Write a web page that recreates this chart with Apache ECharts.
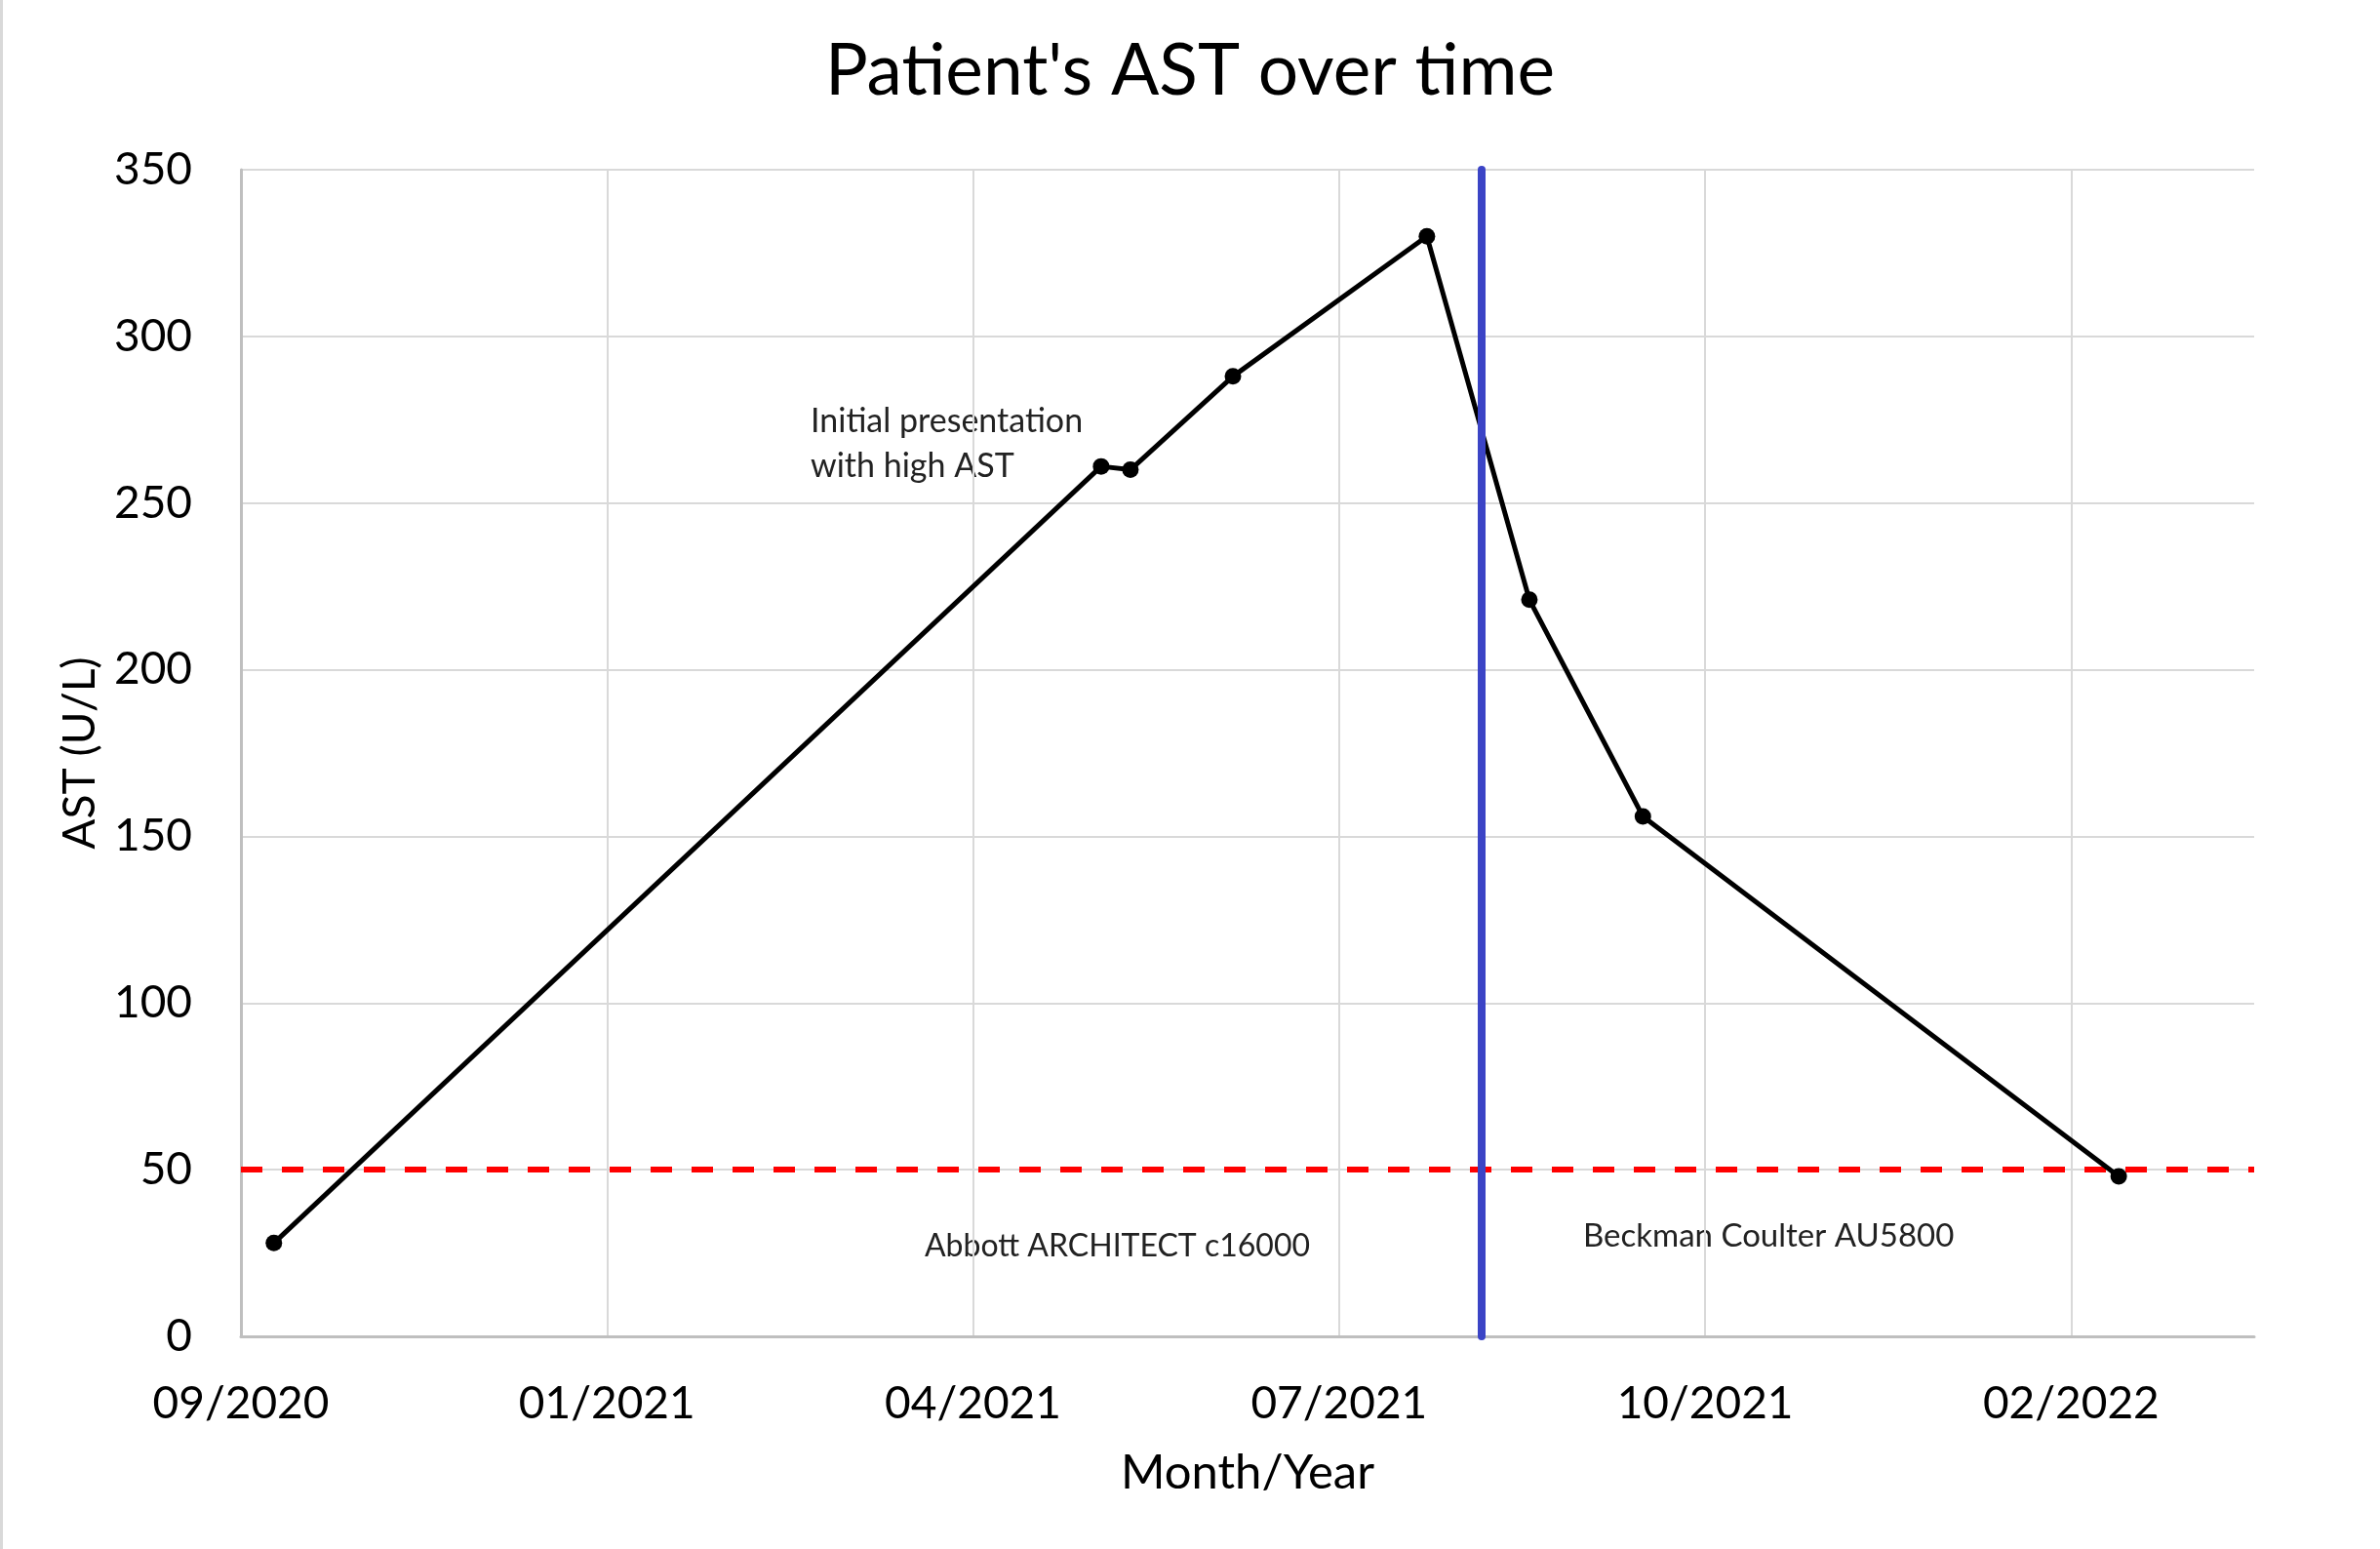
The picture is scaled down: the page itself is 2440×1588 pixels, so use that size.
<!DOCTYPE html>
<html>
<head>
<meta charset="utf-8">
<script src="https://cdn.jsdelivr.net/npm/echarts@6/dist/echarts.min.js"></script>
<style>
html,body{margin:0;padding:0;background:#fff;}
#chart{width:2440px;height:1588px;}
</style>
</head>
<body>
<div id="chart"></div>
<script>
// ---- data ----
const axisStart = '2020-09-24';          // first x tick (09/2020)
const tickDays = 100;                    // date axis major unit (days)
const tickLabels = ['09/2020', '01/2021', '04/2021', '07/2021', '10/2021', '02/2022'];
const sampleDates = ['2020-10-03', '2021-05-17', '2021-05-25', '2021-06-22', '2021-08-14', '2021-09-11', '2021-10-12', '2022-02-19'];
const astValues = [28, 261, 260, 288, 330, 221, 156, 48];
const switchDate = '2021-08-29';         // analyzer change
const upperLimit = 50;                   // AST reference limit (U/L)
const annotations = ['Initial presentation\nwith high AST', 'Abbott ARCHITECT c16000', 'Beckman Coulter AU5800'];

const DAY = 86400000;
const t0 = Date.parse(axisStart);
const toDays = d => Math.round((Date.parse(d) - t0) / DAY);
const seriesData = sampleDates.map((d, i) => [toDays(d), astValues[i]]);

const FONT = 'Lato';
const chart = echarts.init(document.getElementById('chart'), null, {renderer: 'canvas'});
chart.setOption({
  backgroundColor: '#ffffff',
  animation: false,
  title: {
    text: "Patient's AST over time",
    left: 'center',
    top: 32,
    textStyle: {fontFamily: FONT, fontSize: 73, fontWeight: 'normal', color: '#000'}
  },
  grid: {left: 247, right: 129, top: 174, bottom: 218, containLabel: false},
  xAxis: {
    type: 'value',
    min: 0,
    max: tickDays * (tickLabels.length - 1) + tickDays / 2,
    interval: tickDays,
    name: 'Month/Year',
    nameLocation: 'middle',
    nameGap: 116,
    nameTextStyle: {fontFamily: FONT, fontSize: 49, color: '#000'},
    axisLine: {show: true, lineStyle: {color: '#bfbfbf', width: 3}},
    axisTick: {show: false},
    axisLabel: {
      margin: 46, fontFamily: FONT, fontSize: 46, color: '#000',
      showMaxLabel: false,
      formatter: v => (v % tickDays === 0 && tickLabels[v / tickDays]) ? tickLabels[v / tickDays] : ''
    },
    splitLine: {show: false}
  },
  yAxis: {
    type: 'value',
    min: 0, max: 350, interval: 50,
    name: 'AST (U/L)',
    nameLocation: 'middle',
    nameGap: 142,
    nameTextStyle: {fontFamily: FONT, fontSize: 46, color: '#000'},
    axisLine: {show: true, lineStyle: {color: '#bfbfbf', width: 3}},
    axisTick: {show: false},
    axisLabel: {margin: 50, fontFamily: FONT, fontSize: 46, color: '#000'},
    splitLine: {show: true, lineStyle: {color: '#d9d9d9', width: 2}}
  },
  series: [
    {
      type: 'line',
      name: 'xgrid',
      data: [],
      z: 0,
      markLine: {
        silent: true, symbol: 'none', animation: false, z: 0,
        label: {show: false},
        emphasis: {disabled: true},
        lineStyle: {color: '#d9d9d9', width: 2, type: 'solid'},
        data: tickLabels.map((_, i) => ({xAxis: i * tickDays}))
      }
    },
    {
      type: 'line',
      name: 'limit',
      data: [],
      z: 1,
      markLine: {
        silent: true, symbol: 'none', animation: false, z: 1,
        label: {show: false},
        emphasis: {disabled: true},
        lineStyle: {color: '#ff0000', width: 6, type: [22, 20]},
        data: [{yAxis: upperLimit}]
      }
    },
    {
      type: 'line',
      name: 'AST',
      data: seriesData,
      z: 3,
      symbol: 'circle',
      symbolSize: 17,
      lineStyle: {color: '#000', width: 5},
      itemStyle: {color: '#000'}
    },
    {
      type: 'line',
      name: 'switch',
      data: [],
      z: 6,
      markLine: {
        silent: true, symbol: 'none', animation: false, z: 6,
        label: {show: false},
        emphasis: {disabled: true},
        lineStyle: {color: '#3b44c6', width: 8, type: 'solid', cap: 'round'},
        data: [{xAxis: toDays(switchDate)}]
      }
    }
  ],
  graphic: [
    {type: 'rect', left: 0, top: 0, shape: {width: 3, height: 1588}, style: {fill: '#d9d9d9'}},
    {type: 'text', left: 831, top: 409, style: {text: annotations[0], font: '34px Lato', fill: '#222', lineHeight: 46}},
    {type: 'text', left: 948, top: 1262, style: {text: annotations[1], font: '32px Lato', fill: '#222'}},
    {type: 'text', left: 1623, top: 1251, style: {text: annotations[2], font: '33px Lato', fill: '#222'}}
  ]
});
</script>
</body>
</html>
